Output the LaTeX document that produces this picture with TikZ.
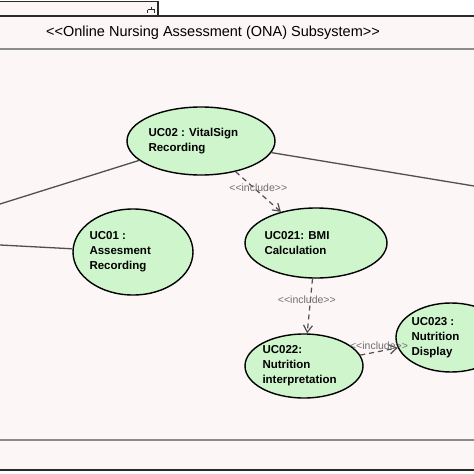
\documentclass[tikz,border=0pt]{standalone}
\usepackage{fontspec}
\setmainfont{Liberation Sans}[Ligatures=TeXOff]
\usepackage{xcolor}
\usepackage{tikz}
\usetikzlibrary{arrows.meta,positioning,shapes.geometric}
\definecolor{paper}{HTML}{FCF6F6}
\definecolor{frame}{HTML}{2A2A2A}
\definecolor{rule}{HTML}{8C8C8C}
\definecolor{ucfill}{HTML}{CFF5CC}
\definecolor{assoc}{HTML}{505050}
\definecolor{incl}{HTML}{6E6E6E}
\tikzset{
  usecase/.style={ellipse, draw=black, line width=1.4pt, fill=ucfill, inner sep=0pt},
  uctext/.style={align=left, inner sep=0pt, font=\fontsize{11.5}{15}\selectfont\bfseries},
  assocline/.style={draw=assoc, line width=1.3pt},
  include/.style={draw=assoc, dashed, dash pattern=on 5pt off 4pt, line width=1.2pt, -{Straight Barb[length=7pt,width=9pt]}},
  incllab/.style={text=incl, font=\fontsize{10.5}{12}\selectfont, inner sep=0pt},
  title/.style={font=\fontsize{14.5}{16}\selectfont}
}

\begin{document}
\begin{tikzpicture}[x=1pt,y=-1pt]
  \useasboundingbox (0,0) rectangle (474,474);
  \clip (0,0) rectangle (474,474);

  % frame
  \fill[white] (0,0) rectangle (474,474);
  \fill[paper] (0,1.5) rectangle (158,16);
  \fill[paper] (0,16) rectangle (474,470);
  \draw[frame, line width=1.5pt] (0,1.5) -- (158,1.5) -- (158,16);
  \draw[frame, line width=1.5pt] (0,16) -- (474,16);
  \draw[rule, line width=1.5pt] (0,49) -- (474,49);
  \draw[rule, line width=1.5pt] (0,440) -- (474,440);
  \draw[frame, line width=2pt] (0,470) -- (474,470);
  \draw[frame, line width=0.8pt] (151,6.5) -- (151,9.5) (147.5,9.5) -- (154.5,9.5)
    (147.5,9.5) -- (147.5,13) (154.5,9.5) -- (154.5,13);

  \node[title] (ttl) at (213,33) {<<Online Nursing Assessment (ONA) Subsystem>>};

  % use cases
  \node[usecase, minimum width=148pt, minimum height=68pt] (uc02) at (201,141) {};
  \node[usecase, minimum width=120pt, minimum height=86pt] (uc01) at (133,252) {};
  \node[usecase, minimum width=142pt, minimum height=70pt] (uc021) at (316,243) {};
  \node[usecase, minimum width=118pt, minimum height=64pt] (uc022) at (304,366) {};
  \node[usecase, minimum width=110pt, minimum height=69pt] (uc023) at (451,337.5) {};

  \node[uctext, right=22pt of uc02.west] (uc02t) {UC02 : VitalSign\\Recording};
  \node[uctext, right=17pt of uc01.west] (uc01t) {UC01 :\\Assesment\\Recording};
  \node[uctext, right=20pt of uc021.west] (uc021t) {UC021: BMI\\Calculation};
  \node[uctext, right=18pt of uc022.west] (uc022t) {UC022:\\Nutrition\\interpretation};
  \node[uctext, right=16pt of uc023.west] (uc023t) {UC023 :\\Nutrition\\Display};

  % actors off the page
  \coordinate (actA) at (0,204);
  \coordinate (actB) at (0,245);
  \coordinate (actC) at (474,186);

  \draw[assocline] (actA) -- (uc02);
  \draw[assocline] (actB) -- (uc01);
  \draw[assocline] (actC) -- (uc02);

  \draw[include] (uc02) -- (uc021)
    node[incllab, midway, yshift=4pt] (inc1) {<<include>>};
  \draw[include] (uc021) -- (uc022)
    node[incllab, midway, yshift=6pt, xshift=-3pt] (inc2) {<<include>>};
  \draw[include] (uc022) -- (uc023)
    node[incllab, midway, yshift=6pt] (inc3) {<<include>>};
\end{tikzpicture}
\end{document}
